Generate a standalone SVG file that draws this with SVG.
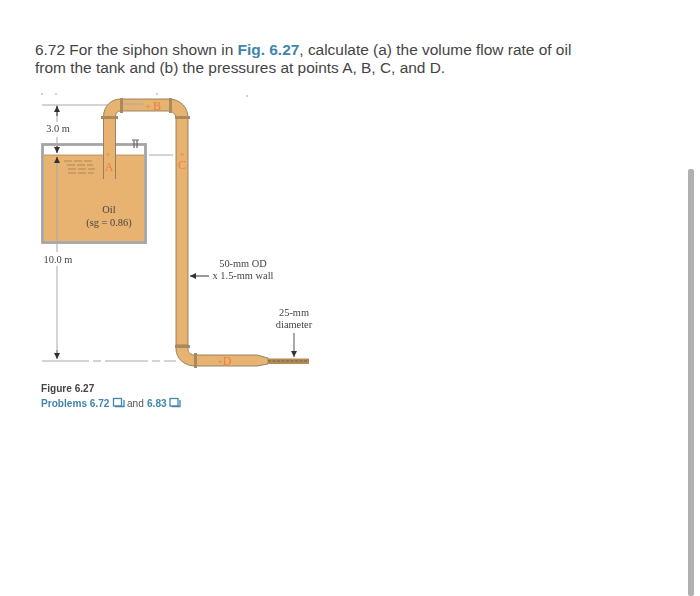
<svg xmlns="http://www.w3.org/2000/svg" width="700" height="596" viewBox="0 0 700 596">
<defs>
<filter id="soft" x="-5%" y="-5%" width="110%" height="110%"><feGaussianBlur stdDeviation="0.5"/></filter>
<filter id="softer" x="-2%" y="-10%" width="104%" height="120%"><feGaussianBlur stdDeviation="0.3"/></filter>
<marker id="ah" markerWidth="7" markerHeight="7" refX="6" refY="3" orient="auto-start-reverse"><path d="M0 0L6 3L0 6z" fill="#333"/></marker>
</defs>
<style>
.q{font-family:"Liberation Sans",Arial,sans-serif;font-size:15.45px;fill:#444}
.lnk{font-weight:bold;fill:#3f86ad}
.s{font:10.4px "Liberation Serif",serif;fill:#444;text-anchor:middle}
.pipe{fill:#e8b271;stroke:#8a7a60;stroke-width:.9}
.fl{fill:#a98a5c}
.dim{stroke:#a8a8a8;stroke-width:1;fill:none}
.lab{font:12px "Liberation Serif",serif;fill:#ea7f3c;text-anchor:middle}
.cap{font:bold 10.1px "Liberation Sans",Arial,sans-serif}
.ico{fill:none;stroke:#3f86ad;stroke-width:1.300}
</style>
<rect width="700" height="596" fill="#fff"/>
<rect x="688" y="169" width="6" height="427" rx="2" fill="#b0b0b0"/>
<g id="question">
<text class="q" x="35" y="55">6.72 For the siphon shown in <tspan class="lnk">Fig. 6.27</tspan>, calculate (a) the volume flow rate of oil</text>
<text class="q" x="35" y="72.500">from the tank and (b) the pressures at points A, B, C, and D.</text>
</g>
<g filter="url(#soft)">
<g id="tank">
<rect x="42.500" y="144.500" width="103" height="98" fill="#fff" stroke="#a5a5a5" stroke-width="2.800"/>
<rect x="44" y="155" width="100" height="86" fill="#e8b271"/>
<path d="M44 155H144" stroke="#a58a60" stroke-width=".8"/>
<path d="M64 161H92M67 165H93M68 169H95M68 173H94" stroke="#b08855" stroke-width="1" stroke-dasharray="8 2"/>
<path d="M132 140h7M134 140v8M137 140v8" stroke="#666" stroke-width="1.200" fill="none"/>
<text class="s" x="109" y="213">Oil</text>
<text class="s" x="109" y="226">(sg = 0.86)</text>
</g>
<g id="siphon-pipe">
<path class="pipe" d="M103.500 179V117C103.500 106 111 99 121 99H169C180 99 188 107 188 118V347H176V118C176 114 172 111 168 111H120C117 111 115.500 114 115.500 117V179"/>
<path class="pipe" d="M176 345H188V349C188 353 191 355 195 355H257L268 358V364L257 366H195C184 366 176 358 176 349Z"/>
<path d="M268 358.500H309V364H268Z" fill="#b08a58"/>
<path d="M268 361H309" stroke="#8d6f48" stroke-width="1.500" stroke-dasharray="3 1.500"/>
<rect class="fl" x="101" y="116" width="17" height="3"/>
<rect class="fl" x="175" y="116" width="15" height="3"/>
<rect class="fl" x="120" y="98" width="3" height="15"/>
<rect class="fl" x="169" y="98" width="3" height="15"/>
<rect class="fl" x="175" y="345" width="15" height="3"/>
<rect class="fl" x="194" y="353" width="3" height="15"/>
<path d="M123 104H143" stroke="#a8a8a8" stroke-width="1"/>
</g>
<g id="connectors">
<path class="dim" d="M42 105H108M149 155H173M57 105V122M57 137V152M57 162V252M57 266V358"/>
<path class="dim" d="M42 361H89M93 361H101M105 361H148M152 361H160M164 361H176"/>
<path d="M57 116V106" stroke="#333" marker-end="url(#ah)" fill="none"/>
<path d="M57 146V153" stroke="#333" marker-end="url(#ah)" fill="none"/>
<path d="M57 163V157" stroke="#333" marker-end="url(#ah)" fill="none"/>
<path d="M57 350V359" stroke="#777" marker-end="url(#ah)" fill="none"/>
<path d="M209 276H190" stroke="#333" marker-end="url(#ah)" fill="none"/>
<path d="M294 333V357" stroke="#555" marker-end="url(#ah)" fill="none"/>
<circle cx="42" cy="94" r=".8" fill="#999"/>
<circle cx="56" cy="94" r=".8" fill="#999"/>
<circle cx="157" cy="94" r=".8" fill="#999"/>
<circle cx="247" cy="96" r=".8" fill="#999"/>
</g>
<g id="point-a"><text class="lab" x="108" y="157" style="font-size:9px">+</text><text class="lab" x="109" y="171">A</text></g>
<g id="point-b"><text class="lab" x="148" y="109" style="font-size:9px">+</text><text class="lab" x="157" y="110">B</text></g>
<g id="point-c"><text class="lab" x="182" y="157" style="font-size:9px">+</text><text class="lab" x="182" y="169">C</text></g>
<g id="point-d"><text class="lab" x="220" y="364" style="font-size:9px">+</text><text class="lab" x="227" y="365">D</text></g>
<g id="labels">
<text class="s" x="58" y="132">3.0 m</text>
<text class="s" x="58" y="263">10.0 m</text>
<text class="s" x="243" y="267">50-mm OD</text>
<text class="s" x="243" y="279">x 1.5-mm wall</text>
<text class="s" x="294" y="316">25-mm</text>
<text class="s" x="294" y="328">diameter</text>
</g>
</g>
<g id="caption" filter="url(#softer)">
<text class="cap" x="41" y="392" fill="#444">Figure 6.27</text>
<text class="cap" x="41" y="407" fill="#3f86ad">Problems 6.72</text>
<rect class="ico" x="113.500" y="398.500" width="8" height="7.500"/><path class="ico" d="M115 406.500H124V400"/>
<text x="127" y="407" style="font:10.1px 'Liberation Sans',Arial,sans-serif" fill="#555">and</text>
<text class="cap" x="147" y="407" fill="#3f86ad">6.83</text>
<rect class="ico" x="170" y="398.500" width="8" height="7.500"/><path class="ico" d="M171.500 406.500H180V400"/>
</g>
</svg>
